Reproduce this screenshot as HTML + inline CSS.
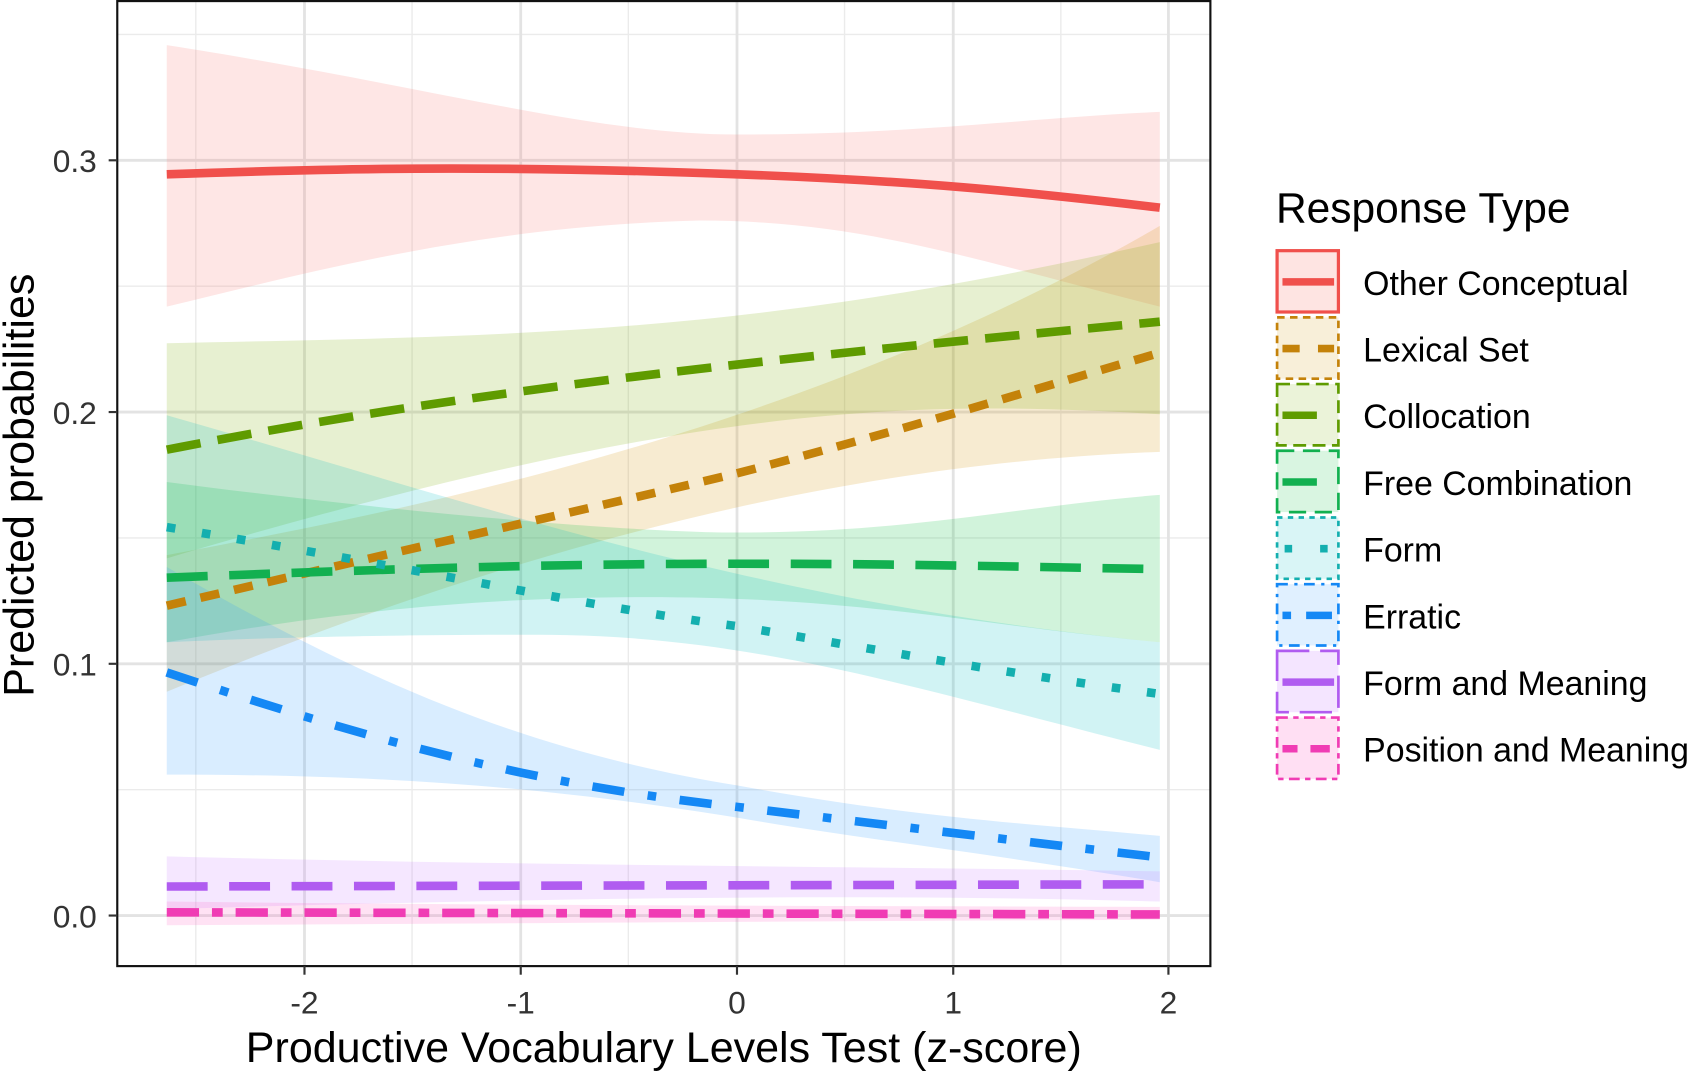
<!DOCTYPE html>
<html><head><meta charset="utf-8"><style>
html,body{margin:0;padding:0;background:#fff;}
svg{display:block;}
text{font-family:"Liberation Sans",Arial,sans-serif;}
</style></head><body>
<svg width="1687" height="1071" viewBox="0 0 1568 995.5" preserveAspectRatio="none" xmlns="http://www.w3.org/2000/svg">
<rect width="1568" height="996" fill="#fff"/>
<g stroke="#ebebeb" stroke-width="1.3">
<line x1="182" y1="0" x2="182" y2="898"/><line x1="383" y1="0" x2="383" y2="898"/><line x1="584" y1="0" x2="584" y2="898"/><line x1="785" y1="0" x2="785" y2="898"/><line x1="986" y1="0" x2="986" y2="898"/>
<line x1="109" y1="32" x2="1125" y2="32"/><line x1="109" y1="266" x2="1125" y2="266"/><line x1="109" y1="500" x2="1125" y2="500"/><line x1="109" y1="734" x2="1125" y2="734"/>
</g>
<g stroke="#e3e3e3" stroke-width="2.6">
<line x1="283" y1="0" x2="283" y2="898"/><line x1="484" y1="0" x2="484" y2="898"/><line x1="685" y1="0" x2="685" y2="898"/><line x1="886" y1="0" x2="886" y2="898"/><line x1="1086" y1="0" x2="1086" y2="898"/>
<line x1="109" y1="149" x2="1125" y2="149"/><line x1="109" y1="383" x2="1125" y2="383"/><line x1="109" y1="617" x2="1125" y2="617"/><line x1="109" y1="851" x2="1125" y2="851"/>
</g>
<g fill-opacity="0.18">
<path fill="#F8766D" d="M155,42 C400,80 550,125 685,125 C850,125 950,110 1078,104 L1078,285 C900,240 800,205 650,205 C450,210 300,250 155,285 Z"/>
<path fill="#D39200" d="M155,516 C400,470 750,400 1078,210 L1078,420 C800,430 500,500 155,643 Z"/>
<path fill="#7CAE00" d="M155,319 C500,312 700,310 1078,225 L1078,385 C850,372 650,372 155,519 Z"/>
<path fill="#00BA38" d="M155,448 C400,480 600,495 685,495 C850,495 950,470 1078,460 L1078,597 C900,580 800,555 600,555 C400,555 250,580 155,597 Z"/>
<path fill="#00BFC4" d="M155,386 C450,470 700,560 1078,597 L1078,697 C850,640 700,590 500,590 C300,590 200,595 155,597 Z"/>
<path fill="#2C9CFF" d="M155,527 C350,640 500,700 685,730 C850,760 950,765 1078,777 L1078,820 C900,790 800,780 685,760 C500,730 350,720 155,720 Z"/>
<path fill="#C77CFF" d="M155,796 C500,805 800,805 1078,810 L1078,838 C800,830 500,835 155,845 Z"/>
<path fill="#FF61C3" d="M155,838 C500,842 800,842 1078,843 L1078,855 C800,856 500,858 155,860 Z"/>
</g>
<g fill="none" stroke-width="8">
<path stroke="#F0504C" d="M155,162 C300,157 450,153 685,162 C850,168 950,178 1078,193"/>
<path stroke="#C4820A" stroke-dasharray="18,14" d="M155,563 C380,510 560,470 685,440 C850,397 950,365 1078,328"/>
<path stroke="#5F9B00" stroke-dasharray="32,16" d="M155,418 C450,360 750,330 1078,299"/>
<path stroke="#12B050" stroke-dasharray="38,20" d="M155,537 C400,527 550,524 685,524 C850,524 950,527 1078,529"/>
<path stroke="#14AFAF" stroke-dasharray="8,25" d="M155,490 C400,530 550,565 685,582 C850,610 950,628 1078,645"/>
<path stroke="#1488F5" stroke-dasharray="30,22,8,22" d="M155,625 C350,690 500,730 685,750 C850,770 950,782 1078,797"/>
<path stroke="#B05CF0" stroke-dasharray="38,20" d="M155,824 L1078,822"/>
<path stroke="#F03CB4" stroke-dasharray="30,12,10,12" d="M155,848 L1078,850"/>
</g>
<rect x="109" y="1" width="1016" height="897" fill="none" stroke="#111" stroke-width="2"/>
<g stroke="#333" stroke-width="2">
<line x1="101" y1="149" x2="109" y2="149"/><line x1="101" y1="383" x2="109" y2="383"/><line x1="101" y1="617" x2="109" y2="617"/><line x1="101" y1="851" x2="109" y2="851"/>
<line x1="283" y1="898" x2="283" y2="906"/><line x1="484" y1="898" x2="484" y2="906"/><line x1="685" y1="898" x2="685" y2="906"/><line x1="886" y1="898" x2="886" y2="906"/><line x1="1086" y1="898" x2="1086" y2="906"/>
</g>
<g font-size="29.5" fill="#333" text-anchor="end">
<text x="90" y="160">0.3</text><text x="90" y="394">0.2</text><text x="90" y="628">0.1</text><text x="90" y="862">0.0</text>
</g>
<g font-size="29.5" fill="#333" text-anchor="middle">
<text x="283" y="942">-2</text><text x="484" y="942">-1</text><text x="685" y="942">0</text><text x="886" y="942">1</text><text x="1086" y="942">2</text>
</g>
<text x="617" y="987" font-size="40" text-anchor="middle" fill="#000">Productive Vocabulary Levels Test (z-score)</text>
<text transform="translate(31,451) rotate(-90)" font-size="40" text-anchor="middle" fill="#000">Predicted probabilities</text>
<text x="1186" y="207" font-size="39.5" fill="#000">Response Type</text>
<g stroke-width="2.5">
<rect x="1187" y="233" width="57" height="57" fill="#F8766D" fill-opacity="0.2" stroke="#F0504C" stroke-width="3"/>
<line x1="1192" y1="262" x2="1240" y2="262" stroke="#F0504C" stroke-width="7"/>
<rect x="1187" y="295" width="57" height="57" fill="#D39200" fill-opacity="0.15" stroke="#C4820A" stroke-dasharray="7,5"/>
<line x1="1192" y1="324" x2="1240" y2="324" stroke="#C4820A" stroke-width="7" stroke-dasharray="16,17"/>
<rect x="1187" y="357" width="57" height="57" fill="#7CAE00" fill-opacity="0.15" stroke="#5F9B00" stroke-dasharray="12,6"/>
<line x1="1192" y1="386" x2="1240" y2="386" stroke="#5F9B00" stroke-width="7" stroke-dasharray="32,16"/>
<rect x="1187" y="419" width="57" height="57" fill="#00BA38" fill-opacity="0.15" stroke="#12B050" stroke-dasharray="16,8"/>
<line x1="1192" y1="448" x2="1240" y2="448" stroke="#12B050" stroke-width="7" stroke-dasharray="32,16"/>
<rect x="1187" y="481" width="57" height="57" fill="#00BFC4" fill-opacity="0.15" stroke="#14AFAF" stroke-dasharray="5,5"/>
<line x1="1194" y1="510" x2="1240" y2="510" stroke="#14AFAF" stroke-width="7" stroke-dasharray="7,26"/>
<rect x="1187" y="543" width="57" height="57" fill="#2C9CFF" fill-opacity="0.15" stroke="#1488F5" stroke-dasharray="10,6,3,6"/>
<line x1="1192" y1="572" x2="1240" y2="572" stroke="#1488F5" stroke-width="7" stroke-dasharray="8,14,24,6"/>
<rect x="1187" y="605" width="57" height="57" fill="#C77CFF" fill-opacity="0.2" stroke="#B05CF0" stroke-dasharray="30,10"/>
<line x1="1192" y1="634" x2="1240" y2="634" stroke="#B05CF0" stroke-width="7"/>
<rect x="1187" y="667" width="57" height="57" fill="#FF61C3" fill-opacity="0.2" stroke="#F03CB4" stroke-dasharray="10,5,5,5"/>
<line x1="1192" y1="696" x2="1240" y2="696" stroke="#F03CB4" stroke-width="7" stroke-dasharray="14,12,18,6"/>
</g>
<g font-size="31.5" fill="#000">
<text x="1267" y="274">Other Conceptual</text>
<text x="1267" y="336">Lexical Set</text>
<text x="1267" y="398">Collocation</text>
<text x="1267" y="460">Free Combination</text>
<text x="1267" y="522">Form</text>
<text x="1267" y="584">Erratic</text>
<text x="1267" y="646">Form and Meaning</text>
<text x="1267" y="708">Position and Meaning</text>
</g>
</svg>
</body></html>
